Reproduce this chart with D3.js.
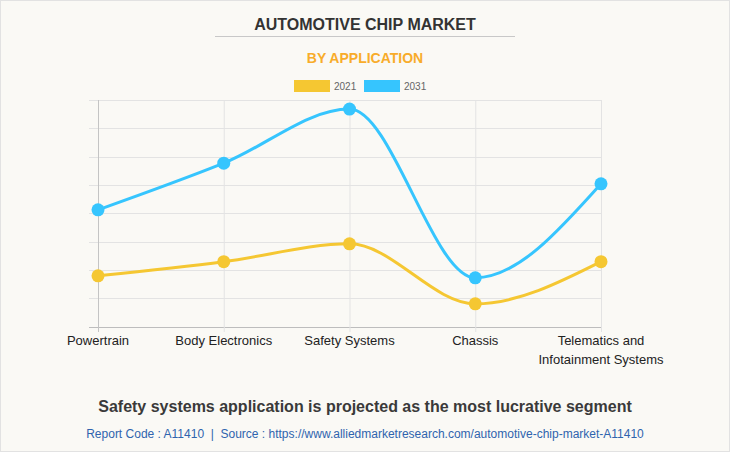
<!DOCTYPE html>
<html>
<head>
<meta charset="utf-8">
<script src="https://cdn.jsdelivr.net/npm/d3@7"></script>
<style>
  body { margin: 0; background: #fff; }
  #container { width: 730px; height: 452px; }
  text { font-family: "Liberation Sans", Arial, sans-serif; }
</style>
</head>
<body>
<div id="container"></div>
<script>
const categories = ["Powertrain", "Body Electronics", "Safety Systems", "Chassis", "Telematics and\nInfotainment Systems"];
const years = ["2021", "2031"];
const values2021 = [1.79, 2.29, 2.92, 0.8, 2.29];
const values2031 = [4.12, 5.77, 7.68, 1.72, 5.04];
const colors = ["#f5c732", "#36c5fe"];

const W = 730, H = 452;
const svg = d3.select("#container").append("svg")
  .attr("width", W).attr("height", H);

svg.append("rect").attr("x", 0.5).attr("y", 0.5).attr("width", W - 1).attr("height", H - 1)
  .attr("fill", "#faf9f5").attr("stroke", "#e2e2e2");

// titles
svg.append("text").attr("x", 365).attr("y", 30).attr("text-anchor", "middle")
  .attr("font-size", 16).attr("font-weight", "bold").attr("fill", "#333")
  .text("AUTOMOTIVE CHIP MARKET");
svg.append("line").attr("x1", 215).attr("x2", 515).attr("y1", 36.5).attr("y2", 36.5)
  .attr("stroke", "#c8c8c8");
svg.append("text").attr("x", 365).attr("y", 63).attr("text-anchor", "middle")
  .attr("font-size", 14).attr("font-weight", "bold").attr("fill", "#f8ac2a")
  .text("BY APPLICATION");

// legend
const legend = svg.append("g");
years.forEach((y, i) => {
  const x0 = 294 + i * 70;
  legend.append("rect").attr("x", x0).attr("y", 80).attr("width", 36).attr("height", 12)
    .attr("fill", colors[i]);
  legend.append("text").attr("x", x0 + 40).attr("y", 89.5).attr("font-size", 10)
    .attr("fill", "#666").text(y);
});

// scales
const x = d3.scalePoint().domain(categories).range([98, 601]);
const y = d3.scaleLinear().domain([0, 8]).range([326.5, 100]);

const grid = svg.append("g");
y.ticks(8).forEach(t => {
  grid.append("line").attr("x1", 89).attr("x2", 601)
    .attr("y1", Math.round(y(t)) + 0.5).attr("y2", Math.round(y(t)) + 0.5)
    .attr("stroke", t === 0 ? "#bdbdbd" : "#e3e3e3");
});
categories.forEach((c, i) => {
  grid.append("line").attr("x1", x(c) + 0.5).attr("x2", x(c) + 0.5)
    .attr("y1", 100).attr("y2", 332)
    .attr("stroke", i === 0 ? "#c4c4c4" : "#e3e3e3");
});

// x labels
categories.forEach(c => {
  const t = svg.append("text").attr("x", x(c)).attr("y", 345).attr("text-anchor", "middle")
    .attr("font-size", 13).attr("fill", "#222");
  c.split("\n").forEach((s, k) => {
    t.append("tspan").attr("x", x(c)).attr("dy", k === 0 ? 0 : 19).text(s);
  });
});

// lines
const line = d3.line().x((d, i) => x(categories[i])).y(d => y(d)).curve(d3.curveMonotoneX);
[values2021, values2031].forEach((vals, si) => {
  svg.append("path").attr("d", line(vals)).attr("fill", "none")
    .attr("stroke", colors[si]).attr("stroke-width", 3);
  svg.selectAll(".pt" + si).data(vals).join("circle")
    .attr("cx", (d, i) => x(categories[i])).attr("cy", d => y(d))
    .attr("r", 6.5).attr("fill", colors[si]);
});

// footer
svg.append("text").attr("x", 365).attr("y", 412).attr("text-anchor", "middle")
  .attr("font-size", 16).attr("font-weight", "bold").attr("fill", "#3a3a3a")
  .text("Safety systems application is projected as the most lucrative segment");
svg.append("text").attr("x", 365).attr("y", 438).attr("text-anchor", "middle")
  .attr("font-size", 12).attr("fill", "#2f64ae")
  .text("Report Code : A11410  |  Source : https://www.alliedmarketresearch.com/automotive-chip-market-A11410")
  .attr("xml:space", "preserve").style("white-space", "pre");
</script>
</body>
</html>
